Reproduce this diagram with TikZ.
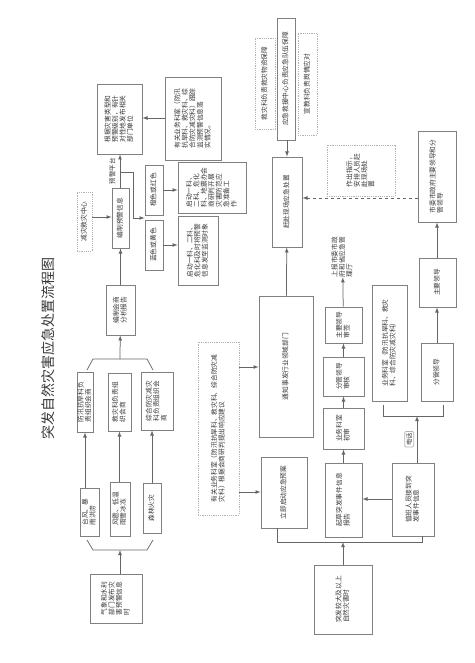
\documentclass[tikz,border=0pt]{standalone}
\usepackage{fontspec}
\setmainfont{Noto Sans CJK SC}
\usepackage{graphicx}
\usetikzlibrary{positioning}
\definecolor{linegray}{HTML}{666666}
\definecolor{boxgray}{HTML}{808080}
\definecolor{txtgray}{HTML}{383838}
\newcommand{\vt}[1]{\rotatebox{90}{\renewcommand{\arraystretch}{0.8}\begin{tabular}{@{}l@{}}#1\end{tabular}}}
\tikzset{
  box/.style={draw=boxgray,line width=0.9pt,inner sep=0pt,text=txtgray,font=\fontsize{6.7}{7.6}\selectfont},
  dbox/.style={box,draw=boxgray!60,dashed,dash pattern=on 1.2pt off 1pt},
  arr/.style={draw=linegray,line width=0.75pt,->},
  lin/.style={draw=linegray,line width=0.75pt}
}
\begin{document}
\begin{tikzpicture}[x=1pt,y=-1pt,>=latex]
\useasboundingbox[fill=white] (0,0) rectangle (474,663);
\node[text=txtgray,font=\fontsize{14}{14}\selectfont] (title) at (48,348) {\rotatebox{90}{突发自然灾害应急处置流程图}};
\node[box,minimum width=52,minimum height=49] (fc) at (116,598.5) {\vt{气象和水利\\部门发布灾\\害预警信息\\时}};
\node[box,minimum width=19,minimum height=48] (typh) at (89.5,512) {\vt{台风、暴\\雨洪涝}};
\node[box,minimum width=20,minimum height=54] (hail) at (120,509) {\vt{风雹、低温\\雨雪冰冻}};
\node[box,minimum width=18,minimum height=50] (fire) at (152,508) {\vt{森林火灾}};
\draw[lin] (87,540) -- (93,550) -- (147,550) -- (153,540);
\coordinate (b1) at (120,550);
\draw[arr] (fc.north -| b1) -- (b1);
\node[box,minimum width=16,minimum height=60] (fxk) at (85,402) {\vt{防汛抗旱科负\\责组织会商}};
\node[box,minimum width=23,minimum height=58] (jzk) at (119.5,402) {\vt{救灾科负责组\\织会商}};
\node[box,minimum width=32,minimum height=58] (zhk) at (157,401) {\vt{综合防灾减灾\\科负责组织会\\商}};
\draw[arr] (typh.north -| fxk) -- (fxk);
\draw[arr] (hail.north -| jzk) -- (jzk);
\draw[arr] (fire.north) -- (fire |- zhk.south);
\draw[lin] (87,370) -- (93,359) -- (147,359) -- (153,370);
\coordinate (b2) at (120,359);
\node[box,minimum width=29,minimum height=50] (hs) at (120.5,310) {\vt{编制会商\\分析报告}};
\draw[arr] (b2) -- (hs);
\node[box,minimum width=17,minimum height=60] (bz) at (120.5,218) {\vt{编制预警信息}};
\draw[arr] (hs) -- (bz);
\node[dbox,minimum width=15,minimum height=59] (jzzx) at (84.5,221.5) {\vt{减灾救灾中心}};
\draw[arr] (jzzx.east |- 0,217) -- (bz.west |- 0,217);
\node[box,minimum width=45,minimum height=70] (gj) at (119.5,119) {\vt{根据灾害类型和\\预警级别，有针\\对性地发布相关\\部门单位}};
\draw[arr] (bz.north -| 120,0) -- node[left=1pt,text=txtgray,font=\fontsize{6.5}{6.5}\selectfont]{\rotatebox{90}{预警平台}} (gj.south -| 120,0);
\node[box,minimum width=18,minimum height=50] (red) at (154,190) {\vt{橙色或红色}};
\node[box,minimum width=18,minimum height=50] (blue) at (154,245) {\vt{蓝色或黄色}};
\coordinate (fk) at (133,218);
\draw[lin] (120,172) -- (133,172) -- (fk);
\draw[arr] (fk) -- (red.west |- fk);
\node[box,minimum width=68,minimum height=51] (l12) at (212,187.5) {\vt{启动一科、\\二科、危化\\科、地震办会\\商研判开展\\灾害防范应\\急准备工\\作}};
\node[box,minimum width=40,minimum height=69] (l34) at (198,250.5) {\vt{启动一科、二科、\\危化科及时将预警\\信息发至监测对象}};
\draw[arr] (red) -- (l12.west |- red);
\draw[arr] (blue) -- (l34.west |- blue);
\node[box,minimum width=56,minimum height=83] (gz) at (193,118.5) {\vt{有关业务科室（防汛\\抗旱科、救灾科、综\\合防灾减灾科）跟踪\\监测预警信息落\\实情况。}};
\draw[arr] (gz.west |- 0,118) -- (gj.east |- 0,118);
\node[box,minimum width=30,minimum height=90] (gf) at (287,202) {\vt{赶赴现场应急处置}};
\node[dbox,minimum width=20,minimum height=91] (wz) at (265,83.5) {\vt{救灾科负责救灾物资保障}};
\node[box,minimum width=18,minimum height=122] (dw) at (286,79) {\vt{应急救援中心负责应急队伍保障}};
\node[dbox,minimum width=19,minimum height=102] (xj) at (307.5,84) {\vt{宣教科负责舆情应对}};
\draw[arr] (dw.south -| gf) -- (gf);
\node[dbox,minimum width=68,minimum height=51] (zs) at (361,170.5) {\vt{作出指示，\\安排人员赶\\赴现场处\\置}};
\node[box,minimum width=38,minimum height=91] (sw) at (437,176.5) {\vt{市委市政府主要领导和分\\管领导}};
\draw[arr,dashed] (sw.west |- 0,198) -- (gf.east |- 0,198);
\node[box,minimum width=37,minimum height=49] (zy) at (437.5,282.5) {\vt{主要领导}};
\draw[arr] (zy.north -| sw) -- (sw);
\node[box,minimum width=32,minimum height=58] (fg) at (437,372) {\vt{分管领导}};
\draw[arr] (fg) -- (fg |- zy.south);
\node[box,minimum width=35,minimum height=116] (yw) at (389.5,343) {\vt{业务科室（防汛抗旱科、救灾\\科、综合防灾减灾科）}};
\draw[lin] (383,405) -- (383,416) -- (443,416) -- (443,405);
\coordinate (b3) at (417,416);
\node[box,minimum width=42,minimum height=73] (zb) at (413,499.5) {\vt{值班人员接到突\\发事件信息}};
\draw[arr] (zb.north -| b3) -- node[left=3pt,draw=boxgray!60,rounded corners=1pt,inner sep=1.5pt,text=txtgray,font=\fontsize{6.3}{6.3}\selectfont]{\rotatebox{90}{电话}} (b3);
\node[box,minimum width=37,minimum height=74] (qc) at (343.5,500) {\vt{起草突发事件信息\\报告}};
\draw[arr] (zb.west |- 0,499) -- (qc.east |- 0,499);
\node[box,minimum width=41,minimum height=41] (cs) at (343.5,428.5) {\vt{业务科室\\初审}};
\node[box,minimum width=41,minimum height=39] (sh) at (343.5,376.5) {\vt{分管领导\\审核}};
\node[box,minimum width=37,minimum height=36] (sq) at (343.5,325) {\vt{主要领导\\审签}};
\node[text=txtgray,font=\fontsize{6.7}{7.6}\selectfont,inner sep=0pt] (sb) at (342.5,257) {\vt{上报市委市政\\府和省应急管\\理厅}};
\draw[arr] (qc) -- (cs);
\draw[arr] (cs) -- (sh);
\draw[arr] (sh) -- (sq);
\draw[arr] (sq) -- (sb);
\node[box,minimum width=58,minimum height=69] (tf) at (343,599.5) {\vt{突发较大及以上\\自然灾害时}};
\node[box,minimum width=46,minimum height=71] (ljqd) at (284,492.5) {\vt{立即启动应急预案}};
\draw[lin] (ljqd.south -| 277,0) -- (277,542) -- (422,542) -- (zb.south -| 422,0);
\coordinate (b4) at (343,542);
\draw[arr] (tf) -- (b4);
\node[dbox,minimum width=41,minimum height=173] (yj) at (218.5,428.5) {\vt{有关业务科室（防汛抗旱科、救灾科、综合防灾减\\灾科）根据会商研判提出响应建议}};
\node[box,minimum width=54,minimum height=141] (qdxy) at (286,366.5) {\vt{通知事发行业领域部门}};
\draw[arr] (yj.east |- 0,367) -- (qdxy.west |- 0,367);
\draw[arr] (yj.east |- 0,492) -- (ljqd.west |- 0,492);
\draw[arr] (qdxy) -- (gf);
\end{tikzpicture}
\end{document}
